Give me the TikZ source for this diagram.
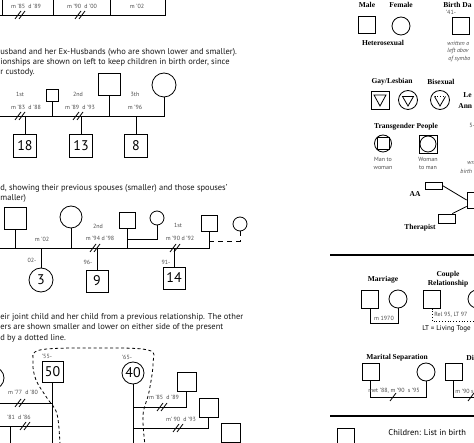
\documentclass[tikz,border=0pt]{standalone}
\usepackage{fontspec}
\setmainfont{PT Sans}
\newfontfamily\serifb{Liberation Serif}
\usetikzlibrary{positioning}
\tikzset{
  male/.style={draw, rectangle, minimum size=#1, inner sep=0pt},
  male/.default=22,
  female/.style={draw, circle, minimum size=#1, inner sep=0pt},
  female/.default=22,
  datelbl/.style={font=\fontsize{6}{8}\selectfont, text=black!70, inner sep=0pt},
  para/.style={font=\fontsize{8.5}{10}\selectfont, text=black!90, anchor=west, inner sep=0pt},
  head/.style={font=\serifb\bfseries\fontsize{7.5}{8.5}\selectfont, inner sep=0pt},
  age/.style={font=\fontsize{14}{14}\selectfont},
  note/.style={font=\itshape\fontsize{6}{7}\selectfont, text=black!70, anchor=west, inner sep=0pt},
}
\newcommand{\divslash}[1]{\draw ([shift={(-5,4)}]#1) -- ++(6,-8) ([shift={(-1,4)}]#1) -- ++(6,-8);}
\newcommand{\sepslash}[1]{\draw ([shift={(-3,4)}]#1) -- ++(6,-8);}
\begin{document}
\begin{tikzpicture}[x=1pt, y=-1pt, line width=0.8pt]
    \useasboundingbox (0,0) rectangle (474,443);
    \fill[white] (0,0) rectangle (474,443);
    \clip (0,0) rectangle (474,443);
    %ARRIBA:
     \begin{scope}
     %matrimonios ------------------
     \coordinate (ta) at (2,0); \coordinate (tb) at (53,0); \coordinate (tc) at (110,0); \coordinate (td) at (165,0);
     \coordinate (tl) at (0,15);
     \draw (tl) -| (td);
     \draw (ta) -- (ta |- tl);
     \draw (tb) -- (tb |- tl);
     \draw (tc) -- (tc |- tl);
     \node[datelbl] (tm1) at (26,6) {m '85\ \ d '89};
     \node[datelbl] (tm2) at (82,6) {m '90\ \ d '00};
     \node[datelbl] (tm3) at (137,6) {m '02};
     \coordinate (tx1) at (20,15); \divslash{tx1}
     \coordinate (tx2) at (80,15); \divslash{tx2}
     %texto
     \node[para] (p1a) at (0,52) {usband and her Ex-Husbands (who are shown lower and smaller).};
     \node[para] (p1b) at (0,62) {ionships are shown on left to keep children in birth order, since};
     \node[para] (p1c) at (0,72) {r custody.};
     %----------------------------------
     \end{scope}
    %EX-MARIDOS:
     \begin{scope}
     %padres ------------------
     \node[male=12] (h1) at (52,95) {};
     \node[male=22] (h2) at (109,84) {};
     \node[female=24] (w) at (164,85) {};
     \coordinate (ml) at (0,116);
     \draw (ml) -| (w.south);
     \draw (h1.south) -- (h1.south |- ml);
     \draw (h2.south) -- (h2.south |- ml);
     \node[datelbl] (o1) at (20,94) {1st};
     \node[datelbl] (o2) at (78,94) {2nd};
     \node[datelbl] (o3) at (135,94) {3th};
     \node[datelbl] (d1) at (26,107) {m '83\ \ d '88};
     \node[datelbl] (d2) at (80,107) {m '89\ \ d '93};
     \node[datelbl] (d3) at (135,107) {m '96};
     \coordinate (x1) at (20,116); \divslash{x1}
     \coordinate (x2) at (78,116); \divslash{x2}
     %hijos
     \node[male=23, age] (k18) at (25,146) {18};
     \node[male=23, age] (k13) at (81,146) {13};
     \node[male=23, age] (k8) at (136,146) {8};
     \draw (k18.north) -- (k18.north |- ml);
     \draw (k13.north) -- (k13.north |- ml);
     \draw (k8.north) -- (k8.north |- ml);
     %texto
     \node[para] (p2a) at (0,188) {d, showing their previous spouses (smaller) and those spouses’};
     \node[para] (p2b) at (0,198) {maller)};
     %----------------------------------
     \end{scope}
    %ESPOSOS ANTERIORES:
     \begin{scope}
     \node[male=22] (f) at (15,218) {};
     \node[female=22] (m) at (71,217) {};
     \node[male=16] (s2) at (127,220.5) {};
     \node[female=14] (s2w) at (157,218) {};
     \node[male=16] (s1) at (209,223.5) {};
     \node[female=14] (s1w) at (240,224) {};
     \coordinate (ml3) at (0,248);
     \draw (ml3) -| (s1.south);
     \draw (f.south) -- (f.south |- ml3);
     \draw (m.south) -- (m.south |- ml3);
     \draw (s2.south) -- (s2.south |- ml3);
     \coordinate (pm2) at (127,239);
     \draw (pm2) -| (s2w.south);
     \coordinate (pm1) at (209,241);
     \draw[dashed, dash pattern=on 5pt off 4pt] (pm1) -| (s1w.south);
     \node[datelbl] (l1) at (42,239) {m '02};
     \node[datelbl] (l2) at (98,226) {2nd};
     \node[datelbl] (l3) at (100,238) {m '94 d '98};
     \node[datelbl] (l4) at (178,225) {1st};
     \node[datelbl] (l5) at (180,238) {m '90 d '92};
     \coordinate (x3) at (95,248); \divslash{x3}
     \coordinate (x4) at (175,248); \divslash{x4}
     %hijos
     \node[female=24, age] (k3) at (41,280) {3};
     \node[male=22, age] (k9) at (97,281) {9};
     \node[male=22, age] (k14) at (174,278) {14};
     \draw (k3.north) -- (k3.north |- ml3);
     \draw (k9.north) -- (k9.north |- ml3);
     \draw (k14.north) -- (k14.north |- ml3);
     \node[datelbl] (b3) at (32,260) {02-};
     \node[datelbl] (b9) at (88,262) {96-};
     \node[datelbl] (b14) at (166,262) {91-};
     %texto
     \node[para] (p3a) at (0,317) {eir joint child and her child from a previous relationship. The other};
     \node[para] (p3b) at (0,327) {ers are shown smaller and lower on either side of the present};
     \node[para] (p3c) at (0,338) {d by a dotted line.};
     %----------------------------------
     \end{scope}
    %PAREJA PRESENTE:
     \begin{scope}
     \node[male=21, age] (h50) at (52.5,371.5) {50};
     \node[female=22, age] (w40) at (133,373) {40};
     \node[female=22] (xw) at (-7,378) {};
     \node[datelbl] (a50) at (47,356) {'55-};
     \node[datelbl] (a40) at (127,357) {'65-};
     \coordinate (hb) at (52.5,443); \draw (h50.south) -- (hb);
     \coordinate (wb) at (133,443); \draw (w40.south) -- (wb);
     \coordinate (e1) at (0,403); \draw (e1) -- (e1 -| h50.south);
     \coordinate (e2) at (0,426); \draw (e2) -- (e2 -| h50.south);
     \coordinate (e2k) at (10,443); \draw (e2k) -- (e2k |- e2);
     \node[male=19] (q1) at (186.5,381.5) {};
     \node[male=19] (q2) at (208.5,407.5) {};
     \node[male=19] (q3) at (230.5,432.5) {};
     \coordinate (g1) at (133,407); \draw (g1) -| (q1.south);
     \coordinate (g2) at (133,428); \draw (g2) -| (q2.south);
     \node[datelbl] (n1) at (23,392) {m '77\ \ d '80};
     \node[datelbl] (n2) at (19,417) {'81\ \ d '86};
     \node[datelbl] (n3) at (164,397) {m '85\ \ d '89};
     \node[datelbl] (n4) at (181,419) {m’ 90\ \ d '93};
     \coordinate (x5) at (20,403); \divslash{x5}
     \coordinate (x6) at (25,426); \divslash{x6}
     \coordinate (x7) at (162,407); \divslash{x7}
     \coordinate (x8) at (178,428); \divslash{x8}
     \draw[dashed, dash pattern=on 3pt off 2.5pt] plot[smooth, tension=0.6] coordinates {(60,445) (57,414) (47,398) (36,380) (33,362) (40,350) (95,348) (148,350) (153,363) (149,392) (143,415) (145,445)};
     %----------------------------------
     \end{scope}
    %SIMBOLOS:
     \begin{scope}
     \node[head] (hm) at (367,5) {Male};
     \node[head] (hf) at (401,5) {Female};
     \node[head, anchor=west] (hbd) at (443,5) {Birth Da};
     \node[male=17] (sm) at (366.5,25) {};
     \node[female=18] (sf) at (401,26) {};
     \node[head] (het) at (383,43) {Heterosexual};
     \node[datelbl] (bd) at (451,12) {'41-};
     \node[male=17] (sb) at (461,25.5) {};
     \node[note] (w1) at (447,43) {written o};
     \node[note] (w2) at (447,51) {left abov};
     \node[note] (w3) at (448,59) {of symbo};
     %gay/lesbiana
     \node[head] (hg) at (392,82) {Gay/Lesbian};
     \node[head] (hbi) at (441,82) {Bisexual};
     \node[head, anchor=west] (hle) at (463,95) {Le};
     \node[head, anchor=west] (han) at (458,106) {Ann};
     \node[male=18] (gm) at (380,100) {};
     \draw ([shift={(-6,-5)}]gm.center) -- ++(12,0) -- ++(-6,11) -- cycle;
     \node[female=19] (gf) at (408,100) {};
     \draw ([shift={(-5.5,-3.5)}]gf.center) -- ++(11,0) -- ++(-5.5,9.5) -- cycle;
     \node[female=19] (bi) at (440,100) {};
     \draw[dotted] ([shift={(-5.5,-3.5)}]bi.center) -- ++(11,0);
     \draw ([shift={(5.5,-3.5)}]bi.center) -- ++(-5.5,9.5) -- ++(-5.5,-9.5);
     %transgenero
     \node[head] (htr) at (406,127) {Transgender People};
     \node[female=17] (mtw) at (383,143.5) {};
     \node[draw, minimum size=12, inner sep=0pt] (mtwi) at (mtw.center) {};
     \node[male=18] (wtm) at (428,144) {};
     \node[draw, circle, minimum size=16, inner sep=0pt] (wtmi) at (wtm.center) {};
     \node[datelbl, align=center] (lmtw) at (383,163) {Man to\\woman};
     \node[datelbl, align=center] (lwtm) at (428,163) {Woman\\to man};
     \node[datelbl, anchor=west] (s5) at (469,125) {5-};
     \node[note] (w4) at (467,162) {wri};
     \node[note] (w5) at (460,171) {birth};
     %AA y terapeuta
     \node[head] (haa) at (415,194) {AA};
     \node[draw, minimum width=17, minimum height=7, inner sep=0pt] (aa) at (433.5,185.5) {};
     \node[male=16] (pt) at (475,200) {};
     \node[draw, minimum width=17, minimum height=9, inner sep=0pt] (th) at (446.5,218.5) {};
     \node[head] (hth) at (420,228) {Therapist};
     \draw (aa.east) -- (pt.west);
     \draw ([xshift=-3pt]th.north east) -- ([yshift=2pt]pt.south west);
     %----------------------------------
     \coordinate (sl1) at (330,255); \coordinate (sr1) at (480,255);
     \draw[line width=2.5pt] (sl1) -- (sr1);
     %matrimonio
     \node[head] (hma) at (383,280) {Marriage};
     \node[head, align=center] (hcr) at (448,279) {Couple\\Relationship};
     \node[male=17.5] (mm) at (370,299.5) {};
     \node[female=18] (mw) at (398,299) {};
     \coordinate (mmj) at (370,323);
     \draw (mm.south) -- (mmj) -| (mw.south);
     \node[datelbl] (m70) at (384,318) {m 1970};
     \node[male=17.5] (cm) at (432,299.5) {};
     \node[female=18] (cw) at (477,299) {};
     \coordinate (cmj) at (432,321); \coordinate (cmr) at (480,321);
     \draw[dotted] (cm.south) -- (cmj) -- (cmr);
     \node[datelbl, anchor=west] (rel) at (434,315) {Rel 95, LT 97};
     \node[font=\fontsize{7}{7}\selectfont, anchor=west, inner sep=0pt] (lt) at (422,329) {LT = Living Toge};
     %separacion
     \node[head] (hsep) at (397,358) {Marital Separation};
     \node[head, anchor=west] (hdi) at (466,358) {Di};
     \node[male=17] (sm2) at (370.5,371.5) {};
     \node[female=18] (sw2) at (426,372) {};
     \coordinate (sj) at (370.5,397);
     \draw (sm2.south) -- (sj) -| (sw2.south);
     \node[datelbl] (met) at (394,391) {met '88, m '90\ \ s '95};
     \coordinate (sx) at (393,397); \sepslash{sx}
     \node[male=17] (dm) at (453.5,371.5) {};
     \coordinate (dj) at (453.5,397); \coordinate (dr) at (480,397);
     \draw (dm.south) -- (dj) -- (dr);
     \node[datelbl, anchor=west] (m90) at (455,391) {m '90 s};
     \coordinate (dx) at (471,397); \sepslash{dx}
     %----------------------------------
     \coordinate (sl2) at (330,416); \coordinate (sr2) at (480,416);
     \draw[line width=2.5pt] (sl2) -- (sr2);
     %hijos
     \node[male=17] (cb) at (345.5,436.5) {};
     \node[font=\fontsize{8.5}{9}\selectfont, anchor=west, inner sep=0pt] (chl) at (388,433) {Children: List in birth};
     \end{scope}
\end{tikzpicture}
\end{document}
